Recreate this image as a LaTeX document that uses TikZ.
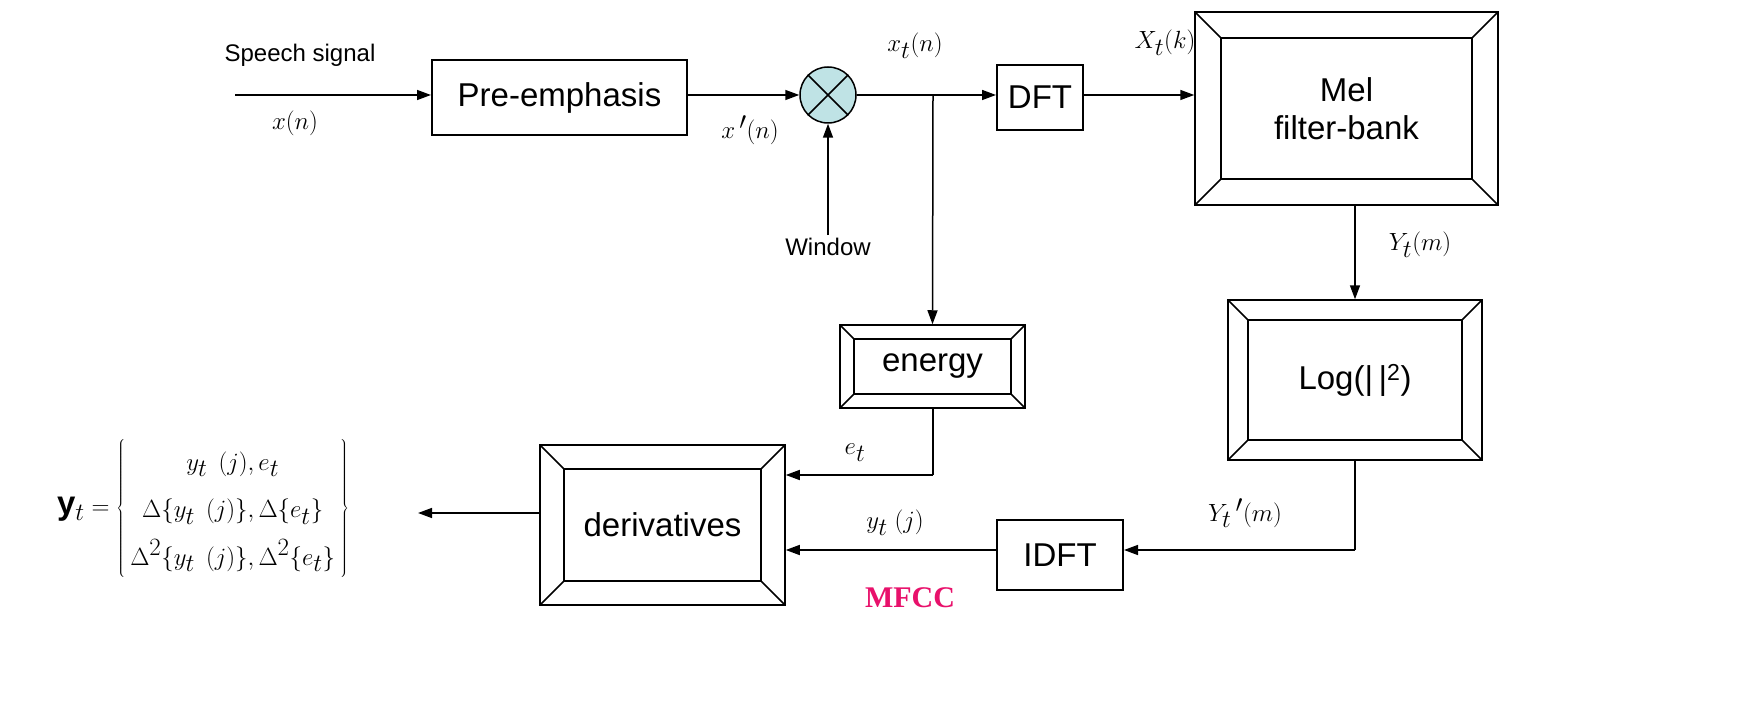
\documentclass[tikz,border=0pt]{standalone}
\usepackage{fontspec}
\setmainfont{Liberation Sans}
\usetikzlibrary{arrows.meta}
\definecolor{mult}{HTML}{BFE3E5}
\definecolor{mfcc}{HTML}{E8116B}
\begin{document}
\begin{tikzpicture}[x=1pt,y=-1pt,
  box/.style={draw,line width=2pt,font=\fontsize{33}{38}\selectfont,inner sep=0},
  bevel/.style={draw,line width=1.5pt,inner sep=0,align=center,font=\fontsize{33}{38}\selectfont,
    path picture={
      \def\b{#1pt}
      \draw[line width=1.5pt] ([shift={(\b,-\b)}]path picture bounding box.north west) rectangle ([shift={(-\b,\b)}]path picture bounding box.south east);
      \draw[line width=1.5pt] (path picture bounding box.north west) -- ++(\b,-\b);
      \draw[line width=1.5pt] (path picture bounding box.north east) -- ++(-\b,-\b);
      \draw[line width=1.5pt] (path picture bounding box.south west) -- ++(\b,\b);
      \draw[line width=1.5pt] (path picture bounding box.south east) -- ++(-\b,\b);
    }},
  bevel/.default=24,
  arr/.style={-{Triangle[length=14pt,width=10pt]},line width=1.5pt},
  ln/.style={line width=1.5pt},
  lab/.style={font=\fontsize{36}{40}\selectfont},
  small/.style={font=\fontsize{24}{28}\selectfont}]
\useasboundingbox (0,0) rectangle (1742,722);

\node[box,minimum width=255pt,minimum height=75pt] (pre) at (559.5,97.5) {Pre-emphasis};
\node[draw,circle,fill=mult,line width=1.5pt,minimum size=56pt,inner sep=0] (mul) at (828,95) {};
\draw[line width=1.5pt] (mul.north west) -- (mul.south east) (mul.north east) -- (mul.south west);
\node[box,minimum width=86pt,minimum height=65pt] (dft) at (1040,97.5) {DFT};
\node[bevel=26,minimum width=303pt,minimum height=193pt] (mel) at (1346.5,108.5) {Mel\\filter-bank};
\node[bevel=20,minimum width=254pt,minimum height=160pt] (log) at (1355,380) {Log(|\,|\textsuperscript{2})};
\node[box,minimum width=126pt,minimum height=70pt] (idft) at (1060,555) {IDFT};
\node[bevel=14,minimum width=185pt,minimum height=83pt] (en) at (932.5,366.5) {energy};
\node[bevel=24,minimum width=245pt,minimum height=160pt] (der) at (662.5,525) {derivatives};

\coordinate (in) at (235,95);
\coordinate (win) at (828,235);
\coordinate (br) at (933,95);
\coordinate (c1) at (933,475);
\coordinate (c2) at (1355,550);
\coordinate (out) at (418,513);

\node[small] (ss) at (300,55) {Speech signal};
\node[small,anchor=north] (wl) at (win) {Window};
\node[lab] (l1) at (295,123) {$x(n)$};
\node[lab] (l2) at (750,130) {$x\,'(n)$};
\node[lab] (l3) at (915,46) {$x_t(n)$};
\node[lab] (l4) at (1165,43) {$X_t(k)$};
\node[lab] (l5) at (1420,245) {$Y_t(m)$};
\node[lab] (l6) at (1245,513) {$Y_t\,'(m)$};
\node[lab] (l7) at (895,523) {$y_t\;(j)$};
\node[lab] (l8) at (855,453) {$e_t$};
\node[text=mfcc,font=\fontspec{Liberation Serif}\fontsize{30}{34}\selectfont\bfseries] (mf) at (910,598) {MFCC};

\node[font=\fontsize{33}{38}\selectfont] (eq) at (203,508) {$\renewcommand{\arraystretch}{1.25}\mathbf{y}_t=\left\{\begin{array}{c} y_t\;\,(j),e_t\\ \Delta\{y_t\;\,(j)\},\Delta\{e_t\}\\ \Delta^2\{y_t\;\,(j)\},\Delta^2\{e_t\}\end{array}\right\}$};

\draw[arr] (in) -- (pre.west |- in);
\draw[arr] (pre.east |- mul) -- (mul.west);
\draw[arr] (win) -- (mul.south);
\draw[arr] (mul.east) -- (dft.west |- mul);
\draw[arr] (br) -- (en.north);
\draw[arr] (dft.east |- mul) -- (mel.west |- mul);
\draw[arr] (mel.south -| log.north) -- (log.north);
\draw[ln] (log.south) -- (c2);
\draw[arr] (c2) -- (idft.east |- c2);
\draw[arr] (idft.west |- c2) -- (der.east |- c2);
\draw[ln] (en.south -| br) -- (c1);
\draw[arr] (c1) -- (der.east |- c1);
\draw[arr] (der.west |- out) -- (out);
\end{tikzpicture}
\end{document}
